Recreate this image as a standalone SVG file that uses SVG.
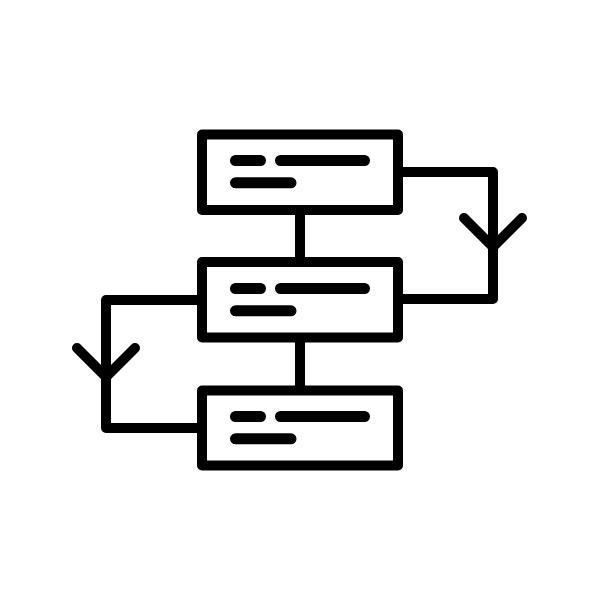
<svg xmlns="http://www.w3.org/2000/svg" width="600" height="600" viewBox="0 0 600 600">
<style>
.box{fill:#fff;stroke:#000;stroke-width:10;stroke-linejoin:round}
.ln{stroke:#000;stroke-width:11;stroke-linecap:round;fill:none}
.conn{stroke:#000;stroke-width:10;fill:none;stroke-linejoin:round;stroke-linecap:round}
</style>
<rect width="600" height="600" fill="#fff"/>
<g id="connectors">
<line class="conn" x1="300" y1="210" x2="300" y2="262"/>
<line class="conn" x1="300" y1="337" x2="300" y2="390"/>
<polyline class="conn" points="398,172 493,172 493,299 398,299"/>
<polyline class="conn" points="464,218 493,247 522,218"/>
<polyline class="conn" points="202,300 106,300 106,428 202,428"/>
<polyline class="conn" points="77,348 106,377 135,348"/>
</g>
<g id="box-top">
<rect class="box" x="202" y="134.5" width="196" height="75.5"/>
<line class="ln" x1="235.5" y1="160.5" x2="260.5" y2="160.5"/>
<line class="ln" x1="280.5" y1="160.5" x2="364.5" y2="160.5"/>
<line class="ln" x1="235.5" y1="182.8" x2="291" y2="182.8"/>
</g>
<g id="box-middle">
<rect class="box" x="202" y="262" width="196" height="75.5"/>
<line class="ln" x1="235.5" y1="288.5" x2="260.5" y2="288.5"/>
<line class="ln" x1="280.5" y1="288.5" x2="364.5" y2="288.5"/>
<line class="ln" x1="235.5" y1="310.8" x2="291" y2="310.8"/>
</g>
<g id="box-bottom">
<rect class="box" x="202" y="390.5" width="196" height="75"/>
<line class="ln" x1="235.5" y1="416.5" x2="260.5" y2="416.5"/>
<line class="ln" x1="280.5" y1="416.5" x2="364.5" y2="416.5"/>
<line class="ln" x1="235.5" y1="438.8" x2="291" y2="438.8"/>
</g>
</svg>
